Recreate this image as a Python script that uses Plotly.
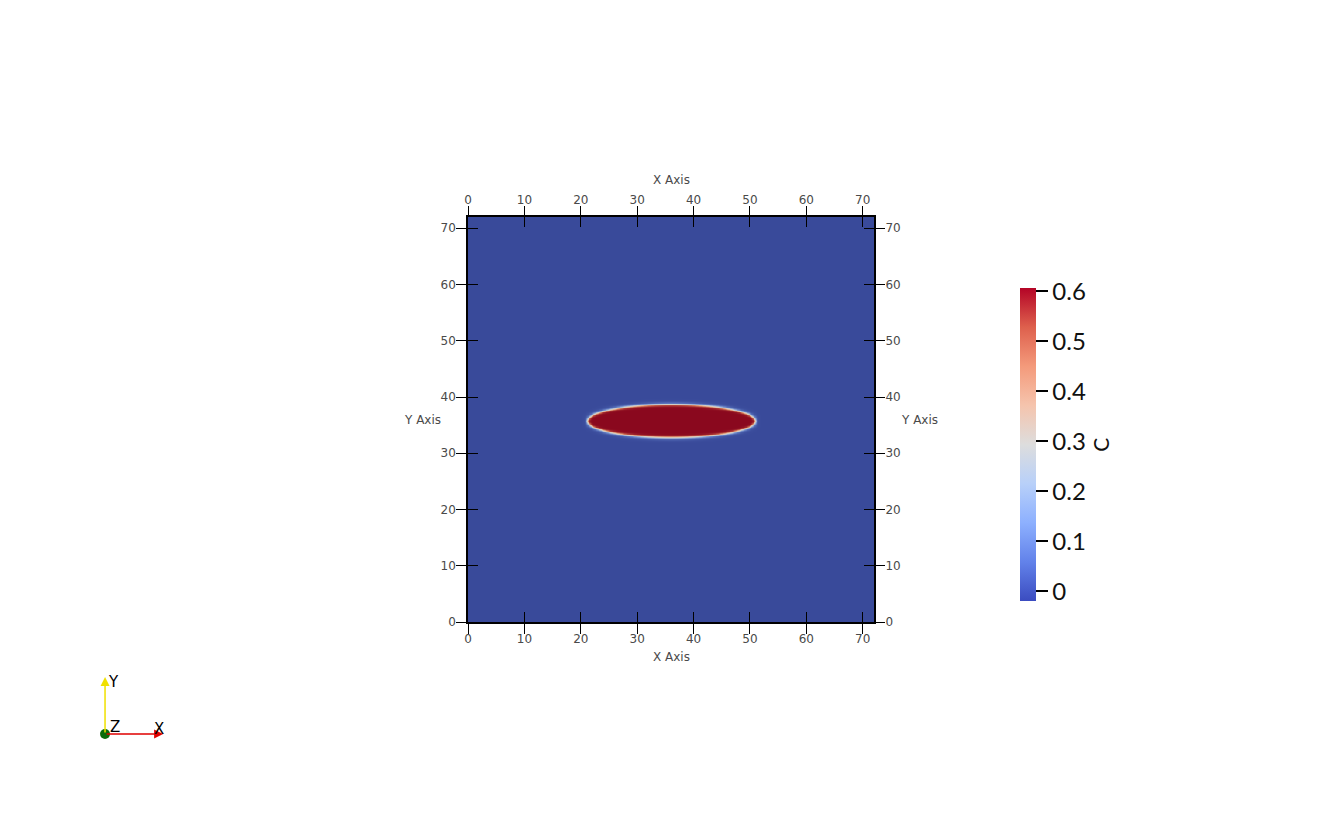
import numpy as np
import plotly.graph_objects as go

# 화면에서 읽은 값들
x_ticks = [0, 10, 20, 30, 40, 50, 60, 70]
y_ticks = [0, 10, 20, 30, 40, 50, 60, 70]
domain_max = 72.0
grid_step = 0.25

# 타원 모양 (중심, 반축), 안/밖 농도
drop_center = [36.0, 35.8]
drop_axes = [14.9, 2.95]
c_inside = 0.606
c_outside = -0.02
interface_width = 0.28

cbar_ticks = [0, 0.1, 0.2, 0.3, 0.4, 0.5, 0.6]
cbar_text = ["0", "0.1", "0.2", "0.3", "0.4", "0.5", "0.6"]
c_min = -0.02
c_max = 0.606

# ParaView Cool to Warm
cool_warm = [
    [0.0, "rgb(59,76,192)"], [0.125, "rgb(98,130,234)"], [0.25, "rgb(141,176,254)"],
    [0.375, "rgb(184,208,249)"], [0.5, "rgb(221,221,221)"], [0.625, "rgb(245,196,173)"],
    [0.75, "rgb(244,154,123)"], [0.875, "rgb(222,96,77)"], [1.0, "rgb(180,4,38)"],
]
# 렌더링된 면은 조명 때문에 더 어둡게 보임
cool_warm_shaded = [
    [0.0, "rgb(57,74,154)"], [0.125, "rgb(85,110,185)"], [0.25, "rgb(125,150,205)"],
    [0.375, "rgb(175,188,210)"], [0.5, "rgb(212,206,196)"], [0.625, "rgb(228,182,155)"],
    [0.75, "rgb(210,125,95)"], [0.875, "rgb(175,60,55)"], [1.0, "rgb(138,8,30)"],
]

# 격자 위의 농도장
gx = np.arange(0, domain_max + grid_step / 2, grid_step)
gy = np.arange(0, domain_max + grid_step / 2, grid_step)
X, Y = np.meshgrid(gx, gy)
dx = X - drop_center[0]
dy = Y - drop_center[1]
a, b = drop_axes
f = (dx / a) ** 2 + (dy / b) ** 2 - 1
grad = 2 * np.sqrt(dx ** 2 / a ** 4 + dy ** 2 / b ** 4) + 1e-9
dist = f / grad
C = c_outside + (c_inside - c_outside) * 0.5 * (1 - np.tanh(dist / interface_width))

fig = go.Figure()

fig.add_trace(go.Heatmap(
    x=gx, y=gy, z=C, colorscale=cool_warm_shaded, zmin=c_min, zmax=c_max,
    zsmooth="best", showscale=False, hoverinfo="skip",
))

# 컬러바만 보여주는 빈 trace
fig.add_trace(go.Scatter(
    x=[None], y=[None], mode="markers", showlegend=False, hoverinfo="skip",
    marker=dict(
        color=[c_min], colorscale=cool_warm, cmin=c_min, cmax=c_max, showscale=True,
        colorbar=dict(
            thickness=16, len=313, lenmode="pixels",
            x=1.3596, xanchor="left", xpad=0, y=0.438, yanchor="middle", ypad=0,
            tickvals=cbar_ticks, ticktext=cbar_text, ticks="outside", ticklen=12,
            tickcolor="black", tickwidth=1.5,
            tickfont=dict(family="Lato", size=24, color="#111111"),
            outlinewidth=0,
            title=dict(text="C", side="right", font=dict(family="Lato", size=21, color="#111111")),
        ),
    ),
))

# 겹친 축들 (위/오른쪽 라벨, 안쪽 눈금)
fig.add_trace(go.Scatter(x=[None], y=[None], xaxis="x2", yaxis="y", showlegend=False, hoverinfo="skip"))
fig.add_trace(go.Scatter(x=[None], y=[None], xaxis="x", yaxis="y2", showlegend=False, hoverinfo="skip"))
fig.add_trace(go.Scatter(x=[None], y=[None], xaxis="x3", yaxis="y3", showlegend=False, hoverinfo="skip"))

tick_font = dict(family="DejaVu Sans", size=12, color="#4a4a4a")
common = dict(range=[0, domain_max], showgrid=False, zeroline=False, ticklen=10,
              tickcolor="black", tickwidth=1.3, tickfont=tick_font)

fig.update_layout(
    width=1341, height=839,
    margin=dict(l=460, r=475, t=209, b=225),
    paper_bgcolor="white", plot_bgcolor="white",
    showlegend=False,
    xaxis=dict(**common, tickvals=x_ticks, ticks="outside", showline=True, linecolor="black",
               linewidth=1.5, mirror=True, anchor="y", ticklabelstandoff=-5),
    yaxis=dict(**common, tickvals=y_ticks, ticks="outside", showline=True, linecolor="black",
               linewidth=1.5, mirror=True, anchor="x", ticklabelstandoff=-2),
    xaxis2=dict(**common, tickvals=x_ticks, ticks="outside", overlaying="x", side="top", anchor="y",
                ticklabelstandoff=-3),
    yaxis2=dict(**common, tickvals=y_ticks, ticks="outside", overlaying="y", side="right", anchor="x",
                ticklabelstandoff=-2),
    xaxis3=dict(**common, tickvals=x_ticks, ticks="inside", mirror="ticks", showticklabels=False,
                overlaying="x", anchor="y3"),
    yaxis3=dict(**common, tickvals=y_ticks, ticks="inside", mirror="ticks", showticklabels=False,
                overlaying="y", anchor="x3"),
)

title_font = dict(family="DejaVu Sans", size=12, color="#4a4a4a")
for tx, ty in [(0.5, 1.091), (0.5, -0.0864)]:
    fig.add_annotation(text="X Axis", x=tx, y=ty, xref="paper", yref="paper",
                       xanchor="center", yanchor="middle", showarrow=False, font=title_font)
for tx in [-0.113, 1.111]:
    fig.add_annotation(text="Y Axis", x=tx, y=0.5, xref="paper", yref="paper",
                       xanchor="center", yanchor="middle", showarrow=False, font=title_font)

# 좌표축 표시 (왼쪽 아래)
ox, oy = -0.894, -0.2765
fig.add_annotation(x=ox, y=-0.1358, xref="paper", yref="paper", ax=0, ay=57, text="",
                   showarrow=True, arrowhead=2, arrowsize=1.2, arrowwidth=1.5, arrowcolor="#f0e000")
fig.add_annotation(x=-0.751, y=oy, xref="paper", yref="paper", ax=-58, ay=0, text="",
                   showarrow=True, arrowhead=2, arrowsize=1.2, arrowwidth=1.5, arrowcolor="#e00000")
triad_font = dict(family="DejaVu Sans", size=15, color="black")
for t, px, py in [("Y", -0.872, -0.148), ("Z", -0.869, -0.259), ("X", -0.761, -0.264)]:
    fig.add_annotation(text=t, x=px, y=py, xref="paper", yref="paper", xanchor="center",
                       yanchor="middle", showarrow=False, font=triad_font)
fig.add_shape(type="circle", xref="paper", yref="paper", x0=ox - 0.0123, x1=ox + 0.0123,
              y0=oy - 0.0123, y1=oy + 0.0123, fillcolor="#0b6b0b", line=dict(width=0))

fig.write_html("out.html")
